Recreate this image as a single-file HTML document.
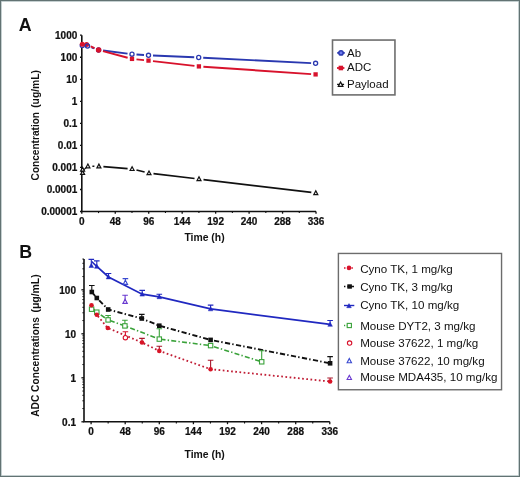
<!DOCTYPE html>
<html><head><meta charset="utf-8"><style>
html,body{margin:0;padding:0;background:#fff;}
body{width:520px;height:477px;overflow:hidden;}
svg{display:block;}
text{font-family:"Liberation Sans",Arial,sans-serif;fill:#111;}
.ax{font-size:10px;font-weight:bold;stroke:#111;stroke-width:0.22px;}
.lab{font-size:10.4px;font-weight:bold;}
.yl{font-weight:bold;}
.big{font-size:17.8px;font-weight:bold;}
.leg{font-size:11.5px;}
.legb{font-size:11.6px;}
</style></head><body>
<svg width="520" height="477" viewBox="0 0 520 477">
<rect x="0" y="0" width="520" height="477" fill="#fff"/>
<path d="M81.8,35.20 V211.5 H316.02" fill="none" stroke="#111" stroke-width="1.6"/>
<line x1="80.0" y1="35.20" x2="81.8" y2="35.20" stroke="#111" stroke-width="1.3"/>
<text x="77.3" y="38.80" text-anchor="end" class="ax">1000</text>
<line x1="80.0" y1="57.24" x2="81.8" y2="57.24" stroke="#111" stroke-width="1.3"/>
<text x="77.3" y="60.84" text-anchor="end" class="ax">100</text>
<line x1="80.0" y1="79.28" x2="81.8" y2="79.28" stroke="#111" stroke-width="1.3"/>
<text x="77.3" y="82.88" text-anchor="end" class="ax">10</text>
<line x1="80.0" y1="101.32" x2="81.8" y2="101.32" stroke="#111" stroke-width="1.3"/>
<text x="77.3" y="104.92" text-anchor="end" class="ax">1</text>
<line x1="80.0" y1="123.36" x2="81.8" y2="123.36" stroke="#111" stroke-width="1.3"/>
<text x="77.3" y="126.96" text-anchor="end" class="ax">0.1</text>
<line x1="80.0" y1="145.40" x2="81.8" y2="145.40" stroke="#111" stroke-width="1.3"/>
<text x="77.3" y="149.00" text-anchor="end" class="ax">0.01</text>
<line x1="80.0" y1="167.44" x2="81.8" y2="167.44" stroke="#111" stroke-width="1.3"/>
<text x="77.3" y="171.04" text-anchor="end" class="ax">0.001</text>
<line x1="80.0" y1="189.48" x2="81.8" y2="189.48" stroke="#111" stroke-width="1.3"/>
<text x="77.3" y="193.08" text-anchor="end" class="ax">0.0001</text>
<line x1="80.0" y1="211.52" x2="81.8" y2="211.52" stroke="#111" stroke-width="1.3"/>
<text x="77.3" y="215.12" text-anchor="end" class="ax">0.00001</text>
<line x1="81.80" y1="211.5" x2="81.80" y2="213.7" stroke="#111" stroke-width="1.3"/>
<text x="81.80" y="224.6" text-anchor="middle" class="ax">0</text>
<line x1="98.53" y1="211.5" x2="98.53" y2="213.1" stroke="#111" stroke-width="1.1"/>
<line x1="115.26" y1="211.5" x2="115.26" y2="213.7" stroke="#111" stroke-width="1.3"/>
<text x="115.26" y="224.6" text-anchor="middle" class="ax">48</text>
<line x1="131.99" y1="211.5" x2="131.99" y2="213.1" stroke="#111" stroke-width="1.1"/>
<line x1="148.72" y1="211.5" x2="148.72" y2="213.7" stroke="#111" stroke-width="1.3"/>
<text x="148.72" y="224.6" text-anchor="middle" class="ax">96</text>
<line x1="165.45" y1="211.5" x2="165.45" y2="213.1" stroke="#111" stroke-width="1.1"/>
<line x1="182.18" y1="211.5" x2="182.18" y2="213.7" stroke="#111" stroke-width="1.3"/>
<text x="182.18" y="224.6" text-anchor="middle" class="ax">144</text>
<line x1="198.91" y1="211.5" x2="198.91" y2="213.1" stroke="#111" stroke-width="1.1"/>
<line x1="215.64" y1="211.5" x2="215.64" y2="213.7" stroke="#111" stroke-width="1.3"/>
<text x="215.64" y="224.6" text-anchor="middle" class="ax">192</text>
<line x1="232.37" y1="211.5" x2="232.37" y2="213.1" stroke="#111" stroke-width="1.1"/>
<line x1="249.10" y1="211.5" x2="249.10" y2="213.7" stroke="#111" stroke-width="1.3"/>
<text x="249.10" y="224.6" text-anchor="middle" class="ax">240</text>
<line x1="265.83" y1="211.5" x2="265.83" y2="213.1" stroke="#111" stroke-width="1.1"/>
<line x1="282.56" y1="211.5" x2="282.56" y2="213.7" stroke="#111" stroke-width="1.3"/>
<text x="282.56" y="224.6" text-anchor="middle" class="ax">288</text>
<line x1="299.29" y1="211.5" x2="299.29" y2="213.1" stroke="#111" stroke-width="1.1"/>
<line x1="316.02" y1="211.5" x2="316.02" y2="213.7" stroke="#111" stroke-width="1.3"/>
<text x="316.02" y="224.6" text-anchor="middle" class="ax">336</text>
<text x="204.5" y="240.5" text-anchor="middle" class="lab">Time (h)</text>
<text transform="translate(38.9,180.4) rotate(-90)" class="yl" style="font-size:10.1px">Concentration</text>
<text transform="translate(38.9,70.0) rotate(-90)" text-anchor="end" class="yl" style="font-size:10.33px">(ug/mL)</text>
<text x="18.7" y="31.3" class="big">A</text>
<line x1="91.73" y1="47.53" x2="94.37" y2="48.47" stroke="#2a38b0" stroke-width="1.9"/>
<line x1="103.06" y1="50.56" x2="127.54" y2="53.64" stroke="#2a38b0" stroke-width="1.9"/>
<line x1="136.49" y1="54.50" x2="144.01" y2="55.00" stroke="#2a38b0" stroke-width="1.9"/>
<line x1="153.00" y1="55.50" x2="194.20" y2="57.30" stroke="#2a38b0" stroke-width="1.9"/>
<line x1="203.19" y1="57.72" x2="311.11" y2="63.08" stroke="#2a38b0" stroke-width="1.9"/>
<line x1="90.70" y1="46.45" x2="94.50" y2="48.15" stroke="#d8122c" stroke-width="1.9"/>
<line x1="102.95" y1="51.16" x2="127.65" y2="57.74" stroke="#d8122c" stroke-width="1.9"/>
<line x1="136.48" y1="59.36" x2="144.02" y2="60.14" stroke="#d8122c" stroke-width="1.9"/>
<line x1="152.97" y1="61.11" x2="194.43" y2="65.89" stroke="#d8122c" stroke-width="1.9"/>
<line x1="203.39" y1="66.71" x2="311.11" y2="74.09" stroke="#d8122c" stroke-width="1.9"/>
<line x1="92.40" y1="166.24" x2="94.40" y2="166.26" stroke="#111" stroke-width="1.7"/>
<line x1="103.39" y1="166.65" x2="127.61" y2="168.55" stroke="#111" stroke-width="1.7"/>
<line x1="136.47" y1="169.99" x2="144.63" y2="172.01" stroke="#111" stroke-width="1.7"/>
<line x1="153.47" y1="173.63" x2="194.53" y2="178.47" stroke="#111" stroke-width="1.7"/>
<line x1="203.47" y1="179.54" x2="311.33" y2="192.46" stroke="#111" stroke-width="1.7"/>
<line x1="84.0" y1="169.6" x2="86.2" y2="167.6" stroke="#111" stroke-width="1.2"/>
<circle cx="82.3" cy="45.4" r="2.05" fill="#fff" stroke="#2a38b0" stroke-width="1.3"/>
<circle cx="98.6" cy="50.0" r="2.05" fill="#fff" stroke="#2a38b0" stroke-width="1.3"/>
<circle cx="132.0" cy="54.2" r="2.05" fill="#fff" stroke="#2a38b0" stroke-width="1.3"/>
<circle cx="148.5" cy="55.3" r="2.05" fill="#fff" stroke="#2a38b0" stroke-width="1.3"/>
<circle cx="198.7" cy="57.5" r="2.05" fill="#fff" stroke="#2a38b0" stroke-width="1.3"/>
<circle cx="315.6" cy="63.3" r="2.05" fill="#fff" stroke="#2a38b0" stroke-width="1.3"/>
<circle cx="82.3" cy="44.2" r="2.5" fill="#d8122c"/>
<circle cx="86.6" cy="44.6" r="2.5" fill="#d8122c"/>
<circle cx="98.6" cy="50.0" r="2.75" fill="#d8122c"/>
<rect x="129.85" y="56.75" width="4.3" height="4.3" fill="#d8122c"/>
<rect x="146.35" y="58.45" width="4.3" height="4.3" fill="#d8122c"/>
<rect x="196.75" y="64.25" width="4.3" height="4.3" fill="#d8122c"/>
<rect x="313.45000000000005" y="72.25" width="4.3" height="4.3" fill="#d8122c"/>
<circle cx="87.5" cy="46.0" r="2.1" fill="none" stroke="#2a38b0" stroke-width="1.3"/>
<path d="M82.60,170.64 L84.60,174.42 L80.60,174.42 Z" fill="#fff" stroke="#111" stroke-width="1.2" stroke-linejoin="miter"/>
<path d="M82.60,167.34 L84.60,171.12 L80.60,171.12 Z" fill="#fff" stroke="#111" stroke-width="1.2" stroke-linejoin="miter"/>
<path d="M87.90,164.04 L89.90,167.82 L85.90,167.82 Z" fill="#fff" stroke="#111" stroke-width="1.2" stroke-linejoin="miter"/>
<path d="M98.90,164.14 L100.90,167.92 L96.90,167.92 Z" fill="#fff" stroke="#111" stroke-width="1.2" stroke-linejoin="miter"/>
<path d="M132.10,166.74 L134.10,170.52 L130.10,170.52 Z" fill="#fff" stroke="#111" stroke-width="1.2" stroke-linejoin="miter"/>
<path d="M149.00,170.94 L151.00,174.72 L147.00,174.72 Z" fill="#fff" stroke="#111" stroke-width="1.2" stroke-linejoin="miter"/>
<path d="M199.00,176.84 L201.00,180.62 L197.00,180.62 Z" fill="#fff" stroke="#111" stroke-width="1.2" stroke-linejoin="miter"/>
<path d="M315.80,190.84 L317.80,194.62 L313.80,194.62 Z" fill="#fff" stroke="#111" stroke-width="1.2" stroke-linejoin="miter"/>
<rect x="332.5" y="40.05" width="62.45" height="54.85" fill="none" stroke="#6e6e6e" stroke-width="1.6"/>
<line x1="337.2" y1="52.9" x2="344.8" y2="52.9" stroke="#2a38b0" stroke-width="1.7"/>
<circle cx="341.0" cy="52.9" r="2.15" fill="#6f7cf0" stroke="#2a38b0" stroke-width="1.4"/>
<line x1="337.0" y1="68.0" x2="344.4" y2="68.0" stroke="#d8122c" stroke-width="1.8"/>
<rect x="338.6" y="65.7" width="4.5" height="4.6" fill="#d8122c"/>
<line x1="337.1" y1="84.4" x2="344.1" y2="84.4" stroke="#111" stroke-width="1.3"/>
<path d="M340.6,82.0 L342.9,86.4 L338.3,86.4 Z" fill="#fff" stroke="#111" stroke-width="1.2"/>
<text x="347.0" y="56.5" class="leg">Ab</text>
<text x="347.0" y="70.9" class="leg">ADC</text>
<text x="347.0" y="87.7" class="leg">Payload</text>
<path d="M84.0,258.9 V421.7 H329.79" fill="none" stroke="#111" stroke-width="1.6"/>
<line x1="81.4" y1="421.80" x2="84.0" y2="421.80" stroke="#111" stroke-width="1.3"/>
<line x1="82.4" y1="408.55" x2="84.0" y2="408.55" stroke="#111" stroke-width="1.0"/>
<line x1="82.4" y1="400.81" x2="84.0" y2="400.81" stroke="#111" stroke-width="1.0"/>
<line x1="82.4" y1="395.31" x2="84.0" y2="395.31" stroke="#111" stroke-width="1.0"/>
<line x1="82.4" y1="391.05" x2="84.0" y2="391.05" stroke="#111" stroke-width="1.0"/>
<line x1="82.4" y1="387.56" x2="84.0" y2="387.56" stroke="#111" stroke-width="1.0"/>
<line x1="82.4" y1="384.62" x2="84.0" y2="384.62" stroke="#111" stroke-width="1.0"/>
<line x1="82.4" y1="382.06" x2="84.0" y2="382.06" stroke="#111" stroke-width="1.0"/>
<line x1="82.4" y1="379.81" x2="84.0" y2="379.81" stroke="#111" stroke-width="1.0"/>
<line x1="81.4" y1="377.80" x2="84.0" y2="377.80" stroke="#111" stroke-width="1.3"/>
<line x1="82.4" y1="364.55" x2="84.0" y2="364.55" stroke="#111" stroke-width="1.0"/>
<line x1="82.4" y1="356.81" x2="84.0" y2="356.81" stroke="#111" stroke-width="1.0"/>
<line x1="82.4" y1="351.31" x2="84.0" y2="351.31" stroke="#111" stroke-width="1.0"/>
<line x1="82.4" y1="347.05" x2="84.0" y2="347.05" stroke="#111" stroke-width="1.0"/>
<line x1="82.4" y1="343.56" x2="84.0" y2="343.56" stroke="#111" stroke-width="1.0"/>
<line x1="82.4" y1="340.62" x2="84.0" y2="340.62" stroke="#111" stroke-width="1.0"/>
<line x1="82.4" y1="338.06" x2="84.0" y2="338.06" stroke="#111" stroke-width="1.0"/>
<line x1="82.4" y1="335.81" x2="84.0" y2="335.81" stroke="#111" stroke-width="1.0"/>
<line x1="81.4" y1="333.80" x2="84.0" y2="333.80" stroke="#111" stroke-width="1.3"/>
<line x1="82.4" y1="320.55" x2="84.0" y2="320.55" stroke="#111" stroke-width="1.0"/>
<line x1="82.4" y1="312.81" x2="84.0" y2="312.81" stroke="#111" stroke-width="1.0"/>
<line x1="82.4" y1="307.31" x2="84.0" y2="307.31" stroke="#111" stroke-width="1.0"/>
<line x1="82.4" y1="303.05" x2="84.0" y2="303.05" stroke="#111" stroke-width="1.0"/>
<line x1="82.4" y1="299.56" x2="84.0" y2="299.56" stroke="#111" stroke-width="1.0"/>
<line x1="82.4" y1="296.62" x2="84.0" y2="296.62" stroke="#111" stroke-width="1.0"/>
<line x1="82.4" y1="294.06" x2="84.0" y2="294.06" stroke="#111" stroke-width="1.0"/>
<line x1="82.4" y1="291.81" x2="84.0" y2="291.81" stroke="#111" stroke-width="1.0"/>
<line x1="81.4" y1="289.80" x2="84.0" y2="289.80" stroke="#111" stroke-width="1.3"/>
<line x1="82.4" y1="276.55" x2="84.0" y2="276.55" stroke="#111" stroke-width="1.0"/>
<line x1="82.4" y1="268.81" x2="84.0" y2="268.81" stroke="#111" stroke-width="1.0"/>
<line x1="82.4" y1="263.31" x2="84.0" y2="263.31" stroke="#111" stroke-width="1.0"/>
<line x1="82.4" y1="259.05" x2="84.0" y2="259.05" stroke="#111" stroke-width="1.0"/>
<text x="76.0" y="294.00" text-anchor="end" class="ax">100</text>
<text x="76.0" y="338.00" text-anchor="end" class="ax">10</text>
<text x="76.0" y="382.00" text-anchor="end" class="ax">1</text>
<text x="76.0" y="426.00" text-anchor="end" class="ax">0.1</text>
<line x1="91.10" y1="421.7" x2="91.10" y2="424.2" stroke="#111" stroke-width="1.3"/>
<text x="91.10" y="435.2" text-anchor="middle" class="ax">0</text>
<line x1="108.15" y1="421.7" x2="108.15" y2="423.5" stroke="#111" stroke-width="1.1"/>
<line x1="125.20" y1="421.7" x2="125.20" y2="424.2" stroke="#111" stroke-width="1.3"/>
<text x="125.20" y="435.2" text-anchor="middle" class="ax">48</text>
<line x1="142.25" y1="421.7" x2="142.25" y2="423.5" stroke="#111" stroke-width="1.1"/>
<line x1="159.30" y1="421.7" x2="159.30" y2="424.2" stroke="#111" stroke-width="1.3"/>
<text x="159.30" y="435.2" text-anchor="middle" class="ax">96</text>
<line x1="176.35" y1="421.7" x2="176.35" y2="423.5" stroke="#111" stroke-width="1.1"/>
<line x1="193.40" y1="421.7" x2="193.40" y2="424.2" stroke="#111" stroke-width="1.3"/>
<text x="193.40" y="435.2" text-anchor="middle" class="ax">144</text>
<line x1="210.45" y1="421.7" x2="210.45" y2="423.5" stroke="#111" stroke-width="1.1"/>
<line x1="227.50" y1="421.7" x2="227.50" y2="424.2" stroke="#111" stroke-width="1.3"/>
<text x="227.50" y="435.2" text-anchor="middle" class="ax">192</text>
<line x1="244.55" y1="421.7" x2="244.55" y2="423.5" stroke="#111" stroke-width="1.1"/>
<line x1="261.60" y1="421.7" x2="261.60" y2="424.2" stroke="#111" stroke-width="1.3"/>
<text x="261.60" y="435.2" text-anchor="middle" class="ax">240</text>
<line x1="278.65" y1="421.7" x2="278.65" y2="423.5" stroke="#111" stroke-width="1.1"/>
<line x1="295.70" y1="421.7" x2="295.70" y2="424.2" stroke="#111" stroke-width="1.3"/>
<text x="295.70" y="435.2" text-anchor="middle" class="ax">288</text>
<line x1="312.74" y1="421.7" x2="312.74" y2="423.5" stroke="#111" stroke-width="1.1"/>
<line x1="329.79" y1="421.7" x2="329.79" y2="424.2" stroke="#111" stroke-width="1.3"/>
<text x="329.79" y="435.2" text-anchor="middle" class="ax">336</text>
<text x="204.7" y="457.6" text-anchor="middle" class="lab">Time (h)</text>
<text transform="translate(39.0,416.8) rotate(-90)" class="yl" style="font-size:10.2px">ADC Concentrations</text>
<text transform="translate(39.0,274.3) rotate(-90)" text-anchor="end" class="yl" style="font-size:10.45px">(μg/mL)</text>
<text x="19.2" y="257.8" class="big">B</text>
<path d="M91.50,305.20 L96.80,314.80 L107.80,328.00 L142.00,342.50 L159.30,350.90 L210.60,369.20 L330.10,381.50" fill="none" stroke="#c01c34" stroke-width="1.8" stroke-dasharray="1.7 2.5"/>
<path d="M91.60,309.20 L96.80,312.20 L108.10,319.90 L124.90,325.90 L159.30,339.10 L210.60,345.60 L261.70,361.80" fill="none" stroke="#3aa23a" stroke-width="1.6" stroke-dasharray="5 2.2 1.4 2.2"/>
<path d="M91.80,292.00 L96.80,298.00 L108.20,309.50 L141.80,318.50 L159.30,325.70 L210.60,339.90 L330.10,363.30" fill="none" stroke="#111" stroke-width="1.9" stroke-dasharray="5.2 2.2 1.4 2.4"/>
<path d="M91.60,261.50 L96.80,266.50 L108.50,277.00 L142.20,294.20 L159.30,296.80 L210.60,308.90 L330.10,324.40" fill="none" stroke="#2028c0" stroke-width="1.7"/>
<path d="M91.30,259.40 V265.60 M88.50,259.40 H94.10" stroke="#2028c0" stroke-width="1.1" fill="none"/>
<path d="M96.80,260.90 V266.40 M94.00,260.90 H99.60" stroke="#2028c0" stroke-width="1.1" fill="none"/>
<path d="M108.50,273.50 V277.00 M105.70,273.50 H111.30" stroke="#2028c0" stroke-width="1.1" fill="none"/>
<path d="M142.20,290.40 V294.20 M139.40,290.40 H145.00" stroke="#2028c0" stroke-width="1.1" fill="none"/>
<path d="M159.30,294.30 V296.80 M156.50,294.30 H162.10" stroke="#2028c0" stroke-width="1.1" fill="none"/>
<path d="M210.60,305.10 V308.90 M207.80,305.10 H213.40" stroke="#2028c0" stroke-width="1.1" fill="none"/>
<path d="M330.10,320.50 V324.40 M327.30,320.50 H332.90" stroke="#2028c0" stroke-width="1.1" fill="none"/>
<path d="M91.80,285.50 V292.00 M89.00,285.50 H94.60" stroke="#111" stroke-width="1.1" fill="none"/>
<path d="M141.80,314.40 V318.50 M139.00,314.40 H144.60" stroke="#111" stroke-width="1.1" fill="none"/>
<path d="M330.10,356.60 V363.30 M327.30,356.60 H332.90" stroke="#111" stroke-width="1.1" fill="none"/>
<path d="M108.10,315.50 V319.90 M105.30,315.50 H110.90" stroke="#3aa23a" stroke-width="1.1" fill="none"/>
<path d="M124.90,320.20 V325.90 M122.10,320.20 H127.70" stroke="#3aa23a" stroke-width="1.1" fill="none"/>
<path d="M159.30,328.70 V339.10 M156.50,328.70 H162.10" stroke="#3aa23a" stroke-width="1.1" fill="none"/>
<path d="M261.70,350.70 V361.80 M258.90,350.70 H264.50" stroke="#3aa23a" stroke-width="1.1" fill="none"/>
<path d="M142.00,338.40 V342.50 M139.20,338.40 H144.80" stroke="#a8182c" stroke-width="1.1" fill="none"/>
<path d="M159.30,346.30 V350.90 M156.50,346.30 H162.10" stroke="#a8182c" stroke-width="1.1" fill="none"/>
<path d="M210.60,360.20 V369.20 M207.80,360.20 H213.40" stroke="#a8182c" stroke-width="1.1" fill="none"/>
<path d="M330.10,378.00 V381.50 M327.30,378.00 H332.90" stroke="#a8182c" stroke-width="1.1" fill="none"/>
<rect x="89.39999999999999" y="307.0" width="4.4" height="4.4" fill="#fff" stroke="#3aa23a" stroke-width="1.1"/>
<rect x="94.6" y="310.0" width="4.4" height="4.4" fill="#fff" stroke="#3aa23a" stroke-width="1.1"/>
<rect x="105.89999999999999" y="317.7" width="4.4" height="4.4" fill="#fff" stroke="#3aa23a" stroke-width="1.1"/>
<rect x="122.7" y="323.7" width="4.4" height="4.4" fill="#fff" stroke="#3aa23a" stroke-width="1.1"/>
<rect x="157.10000000000002" y="336.90000000000003" width="4.4" height="4.4" fill="#fff" stroke="#3aa23a" stroke-width="1.1"/>
<rect x="208.4" y="343.40000000000003" width="4.4" height="4.4" fill="#fff" stroke="#3aa23a" stroke-width="1.1"/>
<rect x="259.5" y="359.6" width="4.4" height="4.4" fill="#fff" stroke="#3aa23a" stroke-width="1.1"/>
<circle cx="91.5" cy="305.2" r="2.3" fill="#d81426"/>
<circle cx="96.8" cy="314.8" r="2.3" fill="#d81426"/>
<circle cx="107.8" cy="328.0" r="2.3" fill="#d81426"/>
<circle cx="142.0" cy="342.5" r="2.3" fill="#d81426"/>
<circle cx="159.3" cy="350.9" r="2.3" fill="#d81426"/>
<circle cx="210.6" cy="369.2" r="2.3" fill="#d81426"/>
<circle cx="330.1" cy="381.5" r="2.3" fill="#d81426"/>
<rect x="89.5" y="289.7" width="4.6" height="4.6" fill="#111"/>
<rect x="94.5" y="295.7" width="4.6" height="4.6" fill="#111"/>
<rect x="105.9" y="307.2" width="4.6" height="4.6" fill="#111"/>
<rect x="139.5" y="316.2" width="4.6" height="4.6" fill="#111"/>
<rect x="157.0" y="323.4" width="4.6" height="4.6" fill="#111"/>
<rect x="208.29999999999998" y="337.59999999999997" width="4.6" height="4.6" fill="#111"/>
<rect x="327.8" y="361.0" width="4.6" height="4.6" fill="#111"/>
<path d="M91.30,263.40 L93.60,267.50 L89.00,267.50 Z" fill="#2028c0" stroke="#2028c0" stroke-width="0.5"/>
<path d="M96.80,264.20 L99.10,268.30 L94.50,268.30 Z" fill="#2028c0" stroke="#2028c0" stroke-width="0.5"/>
<path d="M108.50,274.80 L110.80,278.90 L106.20,278.90 Z" fill="#2028c0" stroke="#2028c0" stroke-width="0.5"/>
<path d="M142.20,292.00 L144.50,296.10 L139.90,296.10 Z" fill="#2028c0" stroke="#2028c0" stroke-width="0.5"/>
<path d="M159.30,294.60 L161.60,298.70 L157.00,298.70 Z" fill="#2028c0" stroke="#2028c0" stroke-width="0.5"/>
<path d="M210.60,306.70 L212.90,310.80 L208.30,310.80 Z" fill="#2028c0" stroke="#2028c0" stroke-width="0.5"/>
<path d="M330.10,322.20 L332.40,326.30 L327.80,326.30 Z" fill="#2028c0" stroke="#2028c0" stroke-width="0.5"/>
<path d="M125.40,331.70 V337.70 M122.60,331.70 H128.20" stroke="#d8122c" stroke-width="1.1" fill="none"/>
<circle cx="125.4" cy="337.7" r="2.2" fill="#fff" stroke="#d8122c" stroke-width="1.1"/>
<path d="M125.40,278.60 V282.00 M122.60,278.60 H128.20" stroke="#3a4ad0" stroke-width="1.1" fill="none"/>
<path d="M125.40,280.22 L127.60,284.38 L123.20,284.38 Z" fill="#fff" stroke="#3a4ad0" stroke-width="1.1" stroke-linejoin="miter"/>
<path d="M125.10,295.20 V301.30 M122.30,295.20 H127.90" stroke="#6a3ad0" stroke-width="1.1" fill="none"/>
<path d="M125.10,299.22 L127.30,303.38 L122.90,303.38 Z" fill="#fff" stroke="#6a3ad0" stroke-width="1.1" stroke-linejoin="miter"/>
<rect x="338.4" y="253.45" width="163.15" height="136.3" fill="none" stroke="#6c6c6c" stroke-width="1.4"/>
<text x="360.2" y="272.60" class="leg legb">Cyno TK, 1 mg/kg</text>
<text x="360.2" y="291.20" class="leg legb">Cyno TK, 3 mg/kg</text>
<text x="360.2" y="309.30" class="leg legb">Cyno TK, 10 mg/kg</text>
<text x="360.2" y="330.10" class="leg legb">Mouse DYT2, 3 mg/kg</text>
<text x="360.2" y="347.20" class="leg legb">Mouse 37622, 1 mg/kg</text>
<text x="360.2" y="364.50" class="leg legb">Mouse 37622, 10 mg/kg</text>
<text x="360.2" y="380.80" class="leg legb">Mouse MDA435, 10 mg/kg</text>
<line x1="344" y1="267.9" x2="354" y2="267.9" stroke="#d8122c" stroke-width="1.5" stroke-dasharray="1.5 2.2"/>
<circle cx="349" cy="267.9" r="2.3" fill="#d8122c"/>
<line x1="344" y1="286.5" x2="354" y2="286.5" stroke="#111" stroke-width="1.5" stroke-dasharray="1.4 2 7"/>
<rect x="347.3" y="284.3" width="4.6" height="4.4" fill="#111"/>
<line x1="344" y1="305.5" x2="354.3" y2="305.5" stroke="#2028c0" stroke-width="1.4"/>
<path d="M349.00,303.60 L351.30,307.70 L346.70,307.70 Z" fill="#2028c0" stroke="#2028c0" stroke-width="0.5"/>
<line x1="344" y1="325.5" x2="352" y2="325.5" stroke="#3aa23a" stroke-width="1.3" stroke-dasharray="1.2 1.6 6"/>
<rect x="347.2" y="323.4" width="4.2" height="4.2" fill="#fff" stroke="#3aa23a" stroke-width="1.1"/>
<circle cx="349.6" cy="343.1" r="2.2" fill="#fff" stroke="#d8122c" stroke-width="1.1"/>
<path d="M349.30,358.52 L351.50,362.68 L347.10,362.68 Z" fill="#fff" stroke="#3a4ad0" stroke-width="1.1" stroke-linejoin="miter"/>
<path d="M349.30,375.32 L351.50,379.48 L347.10,379.48 Z" fill="#fff" stroke="#6a3ad0" stroke-width="1.1" stroke-linejoin="miter"/>
<rect x="1.5" y="1.5" width="517" height="474" fill="none" stroke="#e4ecec" stroke-width="1"/>
<rect x="1" y="1" width="518" height="475" fill="none" stroke="#a6b4b6" stroke-width="1"/>
<rect x="0.5" y="0.5" width="519" height="476" fill="none" stroke="#627373" stroke-width="1"/>
</svg>
</body></html>
